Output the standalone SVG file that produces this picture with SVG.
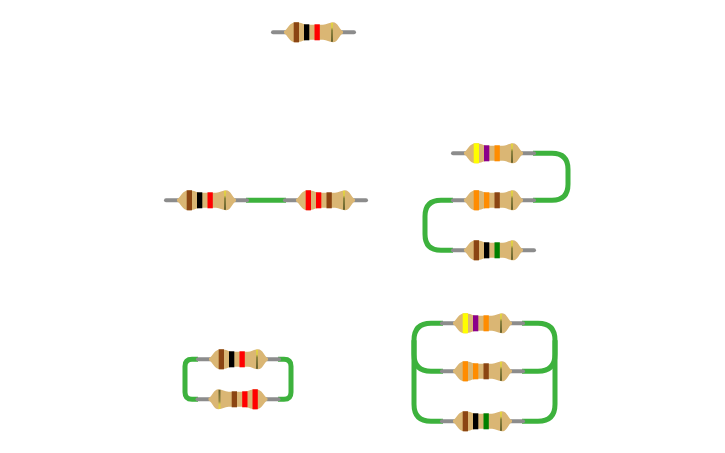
<svg xmlns="http://www.w3.org/2000/svg" width="725" height="453" viewBox="0 0 725 453">
<style>
.lead{stroke:#8c8c8c;stroke-width:4;stroke-linecap:round;fill:none}
.wire{stroke:#3db23d;stroke-width:5;fill:none}
.body{fill:#dab674}
.br{fill:#8b4513}.bk{fill:#000}.rd{fill:#f00}.or{fill:#ff8c00}.ye{fill:#ff0}.pu{fill:#8b008b}.gr{fill:#008000}
</style>
<defs>
<linearGradient id="strip" x1="0" y1="0" x2="0" y2="1">
<stop offset="0" stop-color="#e6d63c"/><stop offset="0.25" stop-color="#d8c84c"/><stop offset="0.4" stop-color="#8f8440"/><stop offset="1" stop-color="#66602c"/>
</linearGradient>
<g id="base">
<path class="lead" d="M2 0H83"/>
<path class="body" d="M13 -1C17 -3 18 -10 25 -10C31 -10 32 -7.500 37 -7.500H52C56 -7.500 58 -10 62 -10C67 -10 68 -3 72 -1V1C68 3 67 10 62 10C58 10 56 7.500 52 7.500H37C32 7.500 31 10 25 10C18 10 17 3 13 1Z"/>
<rect x="60" y="-9.500" width="2" height="19" fill="url(#strip)"/>
</g>
</defs>
<g id="connectors" transform="translate(0 0.300)">
<path class="wire" d="M246 200H286"/>
<path class="wire" d="M533 153H552Q568 153 568 169V184Q568 200 552 200H533"/>
<path class="wire" d="M453 200H441Q425 200 425 216V234Q425 250 441 250H453"/>
<path class="wire" d="M198 359H192Q185 359 185 366V392Q185 399 192 399H198"/>
<path class="wire" d="M278 359H284Q291 359 291 366V392Q291 399 284 399H278"/>
<path class="wire" d="M443 323H431Q414 323 414 340V354Q414 371 431 371H443"/>
<path class="wire" d="M414 340V404Q414 421 431 421H443"/>
<path class="wire" d="M522 323H538Q555 323 555 340V354Q555 371 538 371H522"/>
<path class="wire" d="M555 340V404Q555 421 538 421H522"/>
</g>
<g id="r1" transform="translate(271 32.300)"><use href="#base"/><rect class="br" x="22.700" y="-10" width="5.300" height="20"/><rect class="bk" x="33" y="-8" width="5.300" height="16"/><rect class="rd" x="43.500" y="-8" width="5.300" height="16"/></g>
<g id="r2" transform="translate(164 200.300)"><use href="#base"/><rect class="br" x="22.700" y="-10" width="5.300" height="20"/><rect class="bk" x="33" y="-8" width="5.300" height="16"/><rect class="rd" x="43.500" y="-8" width="5.300" height="16"/></g>
<g id="r3" transform="translate(283 200.300)"><use href="#base"/><rect class="rd" x="22.700" y="-10" width="5.300" height="20"/><rect class="rd" x="33" y="-8" width="5.300" height="16"/><rect class="br" x="43.500" y="-8" width="5.300" height="16"/></g>
<g id="r4" transform="translate(451 153.300)"><use href="#base"/><rect class="ye" x="22.700" y="-10" width="5.300" height="20"/><rect class="pu" x="33" y="-8" width="5.300" height="16"/><rect class="or" x="43.500" y="-8" width="5.300" height="16"/></g>
<g id="r5" transform="translate(451 200.300)"><use href="#base"/><rect class="or" x="22.700" y="-10" width="5.300" height="20"/><rect class="or" x="33" y="-8" width="5.300" height="16"/><rect class="br" x="43.500" y="-8" width="5.300" height="16"/></g>
<g id="r6" transform="translate(451 250.300)"><use href="#base"/><rect class="br" x="22.700" y="-10" width="5.300" height="20"/><rect class="bk" x="33" y="-8" width="5.300" height="16"/><rect class="gr" x="43.500" y="-8" width="5.300" height="16"/></g>
<g id="r7" transform="translate(196 359.300)"><use href="#base"/><rect class="br" x="22.700" y="-10" width="5.300" height="20"/><rect class="bk" x="33" y="-8" width="5.300" height="16"/><rect class="rd" x="43.500" y="-8" width="5.300" height="16"/></g>
<g id="r8" transform="translate(280.500 399.300) rotate(180)"><use href="#base"/><rect class="rd" x="22.700" y="-10" width="5.300" height="20"/><rect class="rd" x="33" y="-8" width="5.300" height="16"/><rect class="br" x="43.500" y="-8" width="5.300" height="16"/></g>
<g id="r9" transform="translate(440 323.300)"><use href="#base"/><rect class="ye" x="22.700" y="-10" width="5.300" height="20"/><rect class="pu" x="33" y="-8" width="5.300" height="16"/><rect class="or" x="43.500" y="-8" width="5.300" height="16"/></g>
<g id="r10" transform="translate(440 371.300)"><use href="#base"/><rect class="or" x="22.700" y="-10" width="5.300" height="20"/><rect class="or" x="33" y="-8" width="5.300" height="16"/><rect class="br" x="43.500" y="-8" width="5.300" height="16"/></g>
<g id="r11" transform="translate(440 421.300)"><use href="#base"/><rect class="br" x="22.700" y="-10" width="5.300" height="20"/><rect class="bk" x="33" y="-8" width="5.300" height="16"/><rect class="gr" x="43.500" y="-8" width="5.300" height="16"/></g>
</svg>
